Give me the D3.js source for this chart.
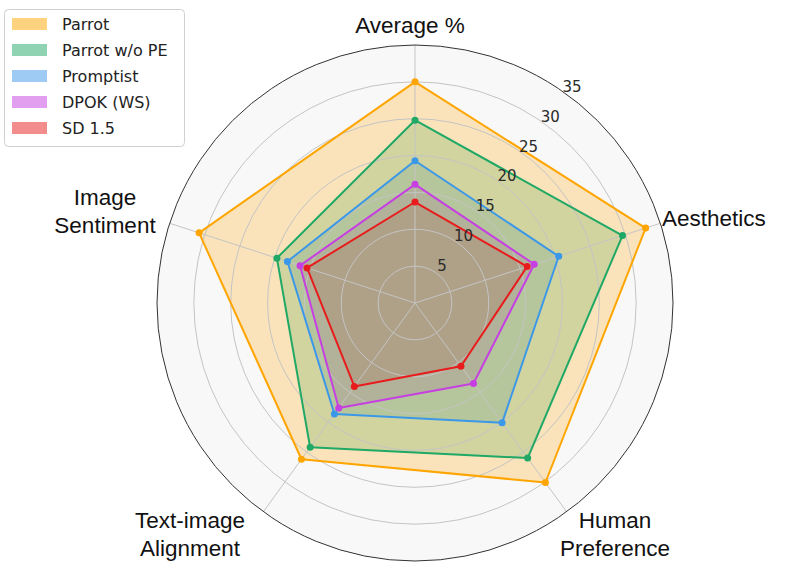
<!DOCTYPE html>
<html>
<head>
<meta charset="utf-8">
<script src="https://cdn.jsdelivr.net/npm/d3@7"></script>
<style>
  html, body { margin: 0; padding: 0; background: #fff; }
  svg { display: block; }
</style>
</head>
<body>
<svg id="chart" width="789" height="565"></svg>
<script>
// ---- data ----
const axes = ["Average %", "Aesthetics", "Human Preference", "Text-image Alignment", "Image Sentiment"];
const seriesNames = ["Parrot", "Parrot w/o PE", "Promptist", "DPOK (WS)", "SD 1.5"];
const parrot      = [30.0, 32.9, 30.1, 26.2, 30.8];
const parrotNoPE  = [24.8, 29.6, 26.0, 24.2, 19.7];
const promptist   = [19.3, 20.5, 20.1, 18.6, 18.2];
const dpok        = [16.1, 17.0, 13.5, 17.6, 16.4];
const sd15        = [13.7, 16.0, 10.6, 14.0, 15.4];
const radialTicks = [5, 10, 15, 20, 25, 30, 35];

// ---- styling / layout ----
const colors = ["#ffa500", "#1fa866", "#3b97e8", "#c63fe2", "#e81c1c"];
const cx = 415, cy = 303, R = 258, rMax = 35;
const allSeries = [parrot, parrotNoPE, promptist, dpok, sd15];

const svg = d3.select("#chart");
const g = svg.append("g").attr("transform", `translate(${cx},${cy})`);

const r = d3.scaleLinear().domain([0, rMax]).range([0, R]);
const angle = d3.scaleLinear().domain([0, axes.length]).range([0, 2 * Math.PI]);

// background
g.append("circle").attr("r", R).attr("fill", "#f8f8f8");

const radial = d3.lineRadial()
  .angle((d, i) => angle(i))
  .radius(d => r(d))
  .curve(d3.curveLinearClosed);

// fills (drawn from smallest series to largest)
allSeries.map((s, k) => ({ s, k })).reverse().forEach(({ s, k }) => {
  g.append("path").attr("d", radial(s))
    .attr("fill", colors[k]).attr("fill-opacity", 0.25).attr("stroke", "none");
});

// grid circles
radialTicks.forEach(t => {
  if (t < rMax) {
    g.append("circle").attr("r", r(t)).attr("fill", "none")
      .attr("stroke", "#c4c4c4").attr("stroke-width", 1);
  }
});
// spokes
axes.forEach((a, i) => {
  const th = angle(i);
  g.append("line")
    .attr("x1", 0).attr("y1", 0)
    .attr("x2", R * Math.sin(th)).attr("y2", -R * Math.cos(th))
    .attr("stroke", "#c4c4c4").attr("stroke-width", 1);
});

// lines + markers
allSeries.forEach((s, k) => {
  g.append("path").attr("d", radial(s))
    .attr("fill", "none").attr("stroke", colors[k]).attr("stroke-width", 2)
    .attr("stroke-linejoin", "round");
  g.selectAll(null).data(s).enter().append("circle")
    .attr("cx", (d, i) => r(d) * Math.sin(angle(i)))
    .attr("cy", (d, i) => -r(d) * Math.cos(angle(i)))
    .attr("r", 3.5).attr("fill", colors[k]);
});

// outer spine
g.append("circle").attr("r", R).attr("fill", "none")
  .attr("stroke", "#333").attr("stroke-width", 1);

// radial tick labels
const labAng = 36 * Math.PI / 180;
radialTicks.forEach(t => {
  const rr = r(t) + 9;
  g.append("text")
    .attr("x", rr * Math.sin(labAng)).attr("y", -rr * Math.cos(labAng))
    .attr("text-anchor", "middle").attr("dominant-baseline", "central")
    .attr("font-family", "DejaVu Sans").attr("font-size", 15)
    .attr("fill", "#2a2a2a").text(t);
});

// axis labels (positions of text blocks)
const labelPos = [
  { x: 410, y: 33, lines: ["Average %"], anchor: "middle" },
  { x: 662, y: 226, lines: ["Aesthetics"], anchor: "start" },
  { x: 615, y: 528, lines: ["Human", "Preference"], anchor: "middle" },
  { x: 190, y: 528, lines: ["Text-image", "Alignment"], anchor: "middle" },
  { x: 105, y: 205, lines: ["Image", "Sentiment"], anchor: "middle" }
];
labelPos.forEach(p => {
  const t = svg.append("text")
    .attr("font-family", "Liberation Sans, Arial, sans-serif")
    .attr("font-size", 22.5).attr("fill", "#111")
    .attr("text-anchor", p.anchor);
  p.lines.forEach((ln, j) => {
    t.append("tspan").attr("x", p.x).attr("y", p.y + j * 28).text(ln);
  });
});

// legend
const lg = svg.append("g").attr("transform", "translate(4.5,9.5)");
lg.append("rect").attr("width", 180).attr("height", 137).attr("rx", 4)
  .attr("fill", "#fff").attr("fill-opacity", 0.8)
  .attr("stroke", "#d0d0d0").attr("stroke-width", 1);
seriesNames.forEach((name, k) => {
  const y = 15 + k * 26;
  lg.append("rect").attr("x", 7.5).attr("y", y - 6.5).attr("width", 35).attr("height", 12)
    .attr("fill", colors[k]).attr("fill-opacity", 0.5);
  lg.append("text").attr("x", 57.5).attr("y", y).attr("dominant-baseline", "central")
    .attr("font-family", "DejaVu Sans").attr("font-size", 16).attr("fill", "#222")
    .text(name);
});
</script>
</body>
</html>
